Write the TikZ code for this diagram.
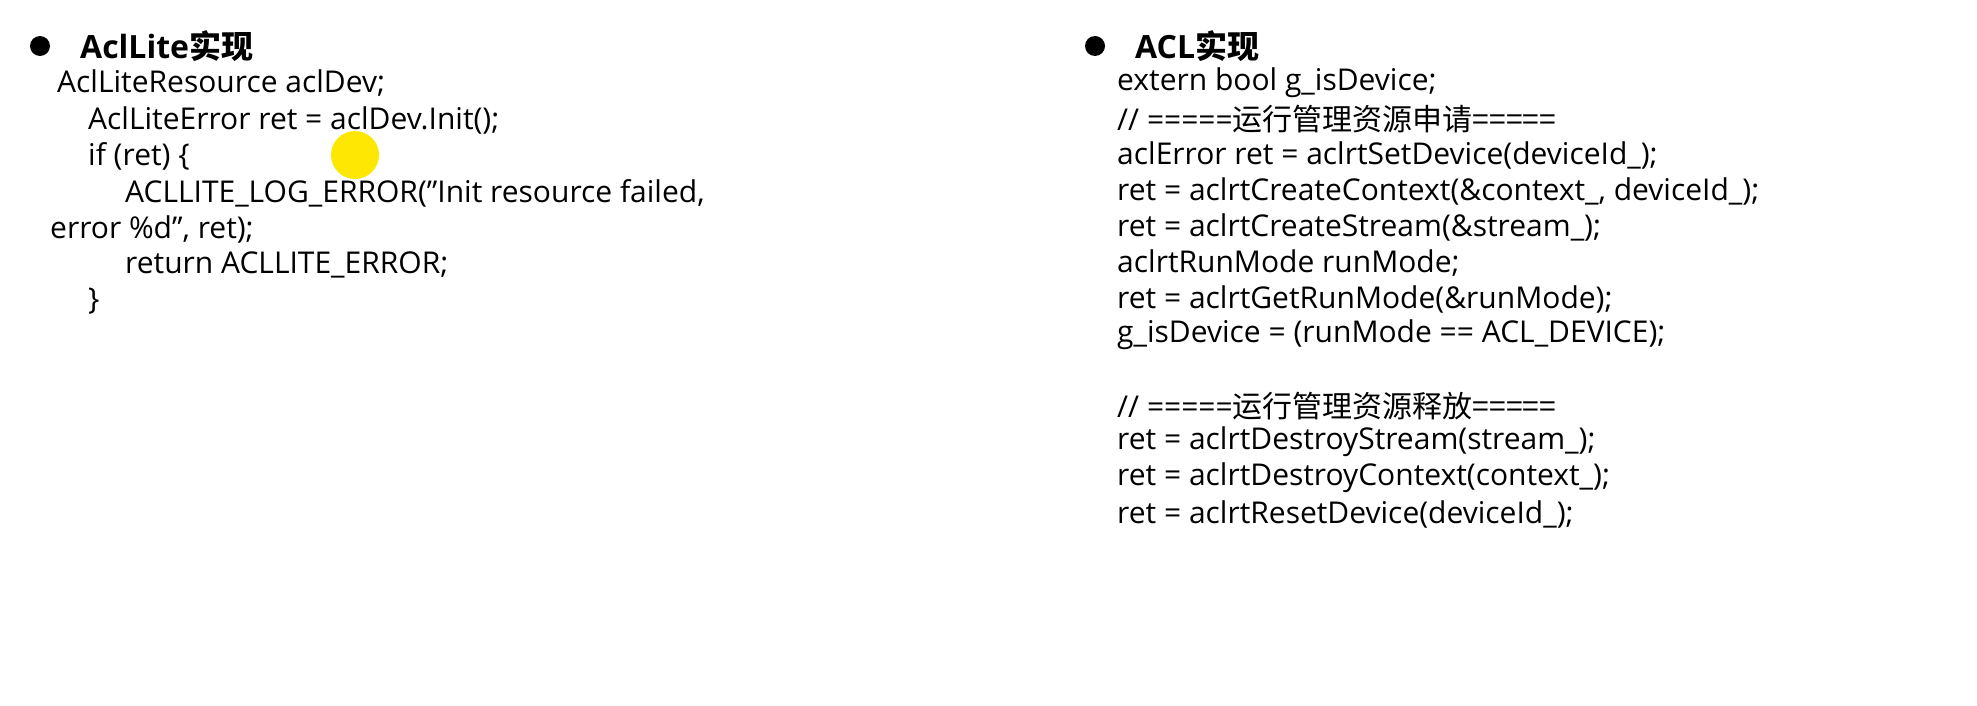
\documentclass[tikz,border=0pt]{standalone}
\usepackage{fontspec}
\setmainfont{Open Sans}
\newfontfamily\cjk{Noto Sans CJK SC}
\tikzset{ln/.style={anchor=west,inner sep=0pt,font=\fontsize{30}{36}\selectfont},
hd/.style={anchor=west,inner sep=0pt,font=\fontsize{32}{38}\selectfont\bfseries}}
\begin{document}
\begin{tikzpicture}[x=1pt,y=-1pt]
\useasboundingbox[fill=white] (0,0) rectangle (1977,706);
\fill[yellow!90!orange] (355,155) circle (24);
\fill[black] (40,46) circle (10);
\node[hd] (h1) at (80,46) {AclLite{\cjk 实现}};
\node[ln] (l1) at (57,83) {AclLiteResource aclDev;};
\node[ln] (l2) at (88,120) {AclLiteError ret = aclDev.Init();};
\node[ln] (l3) at (88,156) {if (ret) \{};
\node[ln] (l4) at (125,193) {ACLLITE\_LOG\_ERROR(\char34 Init resource failed,};
\node[ln] (l5) at (50,229) {error \%d\char34, ret);};
\node[ln] (l6) at (125,265) {return ACLLITE\_ERROR;};
\node[ln] (l7) at (88,301) {\}};
\fill[black] (1095,46) circle (10);
\node[hd] (h2) at (1135,46) {ACL{\cjk 实现}};
\foreach \t [count=\i] in {extern bool g\_isDevice;,// =====\cjk{运行管理资源申请}=====,aclError ret = aclrtSetDevice(deviceId\_);,{ret = aclrtCreateContext(\&context\_, deviceId\_);},ret = aclrtCreateStream(\&stream\_);,aclrtRunMode runMode;,ret = aclrtGetRunMode(\&runMode);,g\_isDevice = (runMode == ACL\_DEVICE);}
  \node[ln] (r\i) at (1117,47+36*\i) {\t};
\foreach \t [count=\i] in {// =====\cjk{运行管理资源释放}=====,ret = aclrtDestroyStream(stream\_);,ret = aclrtDestroyContext(context\_);,ret = aclrtResetDevice(deviceId\_);}
  \node[ln] (s\i) at (1117,370+36*\i) {\t};
\end{tikzpicture}
\end{document}
